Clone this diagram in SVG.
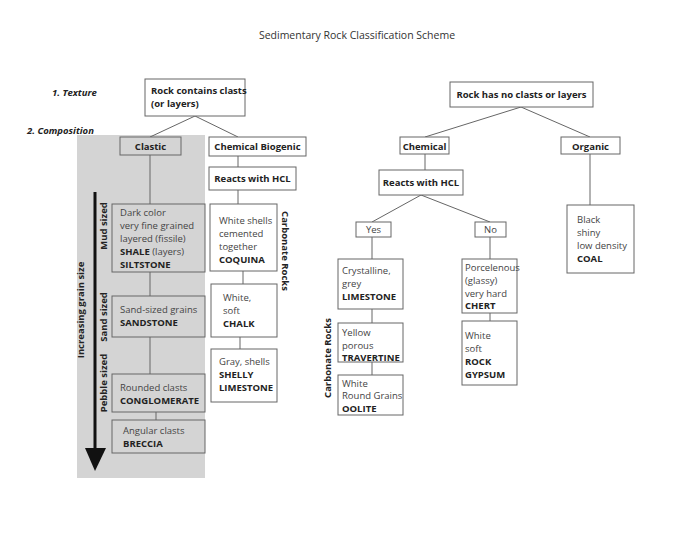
<svg xmlns="http://www.w3.org/2000/svg" width="700" height="545" viewBox="0 0 700 545">
<style>
text{font-family:"Open Sans","Noto Sans",sans-serif;font-size:9.5px;fill:#444}
.b{font-weight:bold;fill:#222}
.h{font-weight:bold;fill:#222;font-size:9.5px}
.lab{font-weight:bold;font-style:italic;fill:#222;font-size:9.5px}
rect{fill:#fff;stroke:#666;stroke-width:1}
rect.gr{fill:#d4d4d4}
line{stroke:#666;stroke-width:1;fill:none}
</style>
<rect width="700" height="545" style="fill:#fff;stroke:none"/>
<text x="357" y="39" text-anchor="middle" style="font-size:10.5px;fill:#333">Sedimentary Rock Classification Scheme</text>
<text x="52" y="96" class="lab">1. Texture</text>
<text x="27" y="134" class="lab">2. Composition</text>
<rect x="77" y="135" width="128" height="343" style="fill:#d4d4d4;stroke:none"/>
<g id="connectors">
<line x1="195" y1="116" x2="150" y2="137"/><line x1="195" y1="116" x2="238" y2="137"/>
<line x1="150" y1="155" x2="150" y2="204"/><line x1="150" y1="272" x2="150" y2="296"/>
<line x1="150" y1="337" x2="150" y2="374"/><line x1="156" y1="412" x2="156" y2="420"/>
<line x1="238" y1="156" x2="238" y2="167"/><line x1="238" y1="190" x2="238" y2="204"/>
<line x1="243" y1="271" x2="243" y2="284"/><line x1="240" y1="337" x2="240" y2="349"/>
<line x1="521" y1="107" x2="425" y2="137"/><line x1="521" y1="107" x2="590" y2="137"/>
<line x1="425" y1="154" x2="425" y2="170"/><line x1="590" y1="154" x2="590" y2="205"/>
<line x1="421" y1="195" x2="372" y2="222"/><line x1="421" y1="195" x2="490" y2="222"/>
<line x1="372" y1="237" x2="372" y2="259"/><line x1="490" y1="237" x2="490" y2="259"/>
<line x1="372" y1="309" x2="372" y2="323"/><line x1="372" y1="362" x2="372" y2="375"/>
<line x1="490" y1="313" x2="490" y2="321"/>
</g>
<g id="arrow">
<line x1="95" y1="192" x2="95" y2="452" style="stroke:#111;stroke-width:3"/>
<polygon points="85,448 106,448 95,471" fill="#111"/>
</g>
<text transform="translate(84,310) rotate(-90)" text-anchor="middle" class="b">Increasing grain size</text>
<text transform="translate(107,226) rotate(-90)" text-anchor="middle" class="b">Mud sized</text>
<text transform="translate(107,317) rotate(-90)" text-anchor="middle" class="b">Sand sized</text>
<text transform="translate(107,383) rotate(-90)" text-anchor="middle" class="b">Pebble sized</text>
<text transform="translate(282,251) rotate(90)" text-anchor="middle" class="b">Carbonate Rocks</text>
<text transform="translate(331,358) rotate(-90)" text-anchor="middle" class="b">Carbonate Rocks</text>
<g id="n1"><rect x="145" y="79" width="100" height="37"/><text x="151" y="94" class="h">Rock contains clasts</text><text x="151" y="107" class="h">(or layers)</text></g>
<g id="n2"><rect class="gr" x="120" y="137" width="61" height="18"/><text x="150.5" y="150" text-anchor="middle" class="h">Clastic</text></g>
<g id="n3"><rect x="209" y="137" width="97" height="19"/><text x="257.5" y="150" text-anchor="middle" class="h">Chemical Biogenic</text></g>
<g id="n4"><rect x="209" y="167" width="87" height="23"/><text x="252.5" y="182" text-anchor="middle" class="h">Reacts with HCL</text></g>
<g id="n5"><rect class="gr" x="112" y="204" width="93" height="68"/><text x="120" y="216">Dark color</text><text x="120" y="229">very fine grained</text><text x="120" y="242">layered (fissile)</text><text x="120" y="255"><tspan class="b">SHALE</tspan> (layers)</text><text x="120" y="268" class="b">SILTSTONE</text></g>
<g id="n6"><rect class="gr" x="112" y="296" width="93" height="41"/><text x="120" y="313">Sand-sized grains</text><text x="120" y="326" class="b">SANDSTONE</text></g>
<g id="n7"><rect class="gr" x="112" y="374" width="93" height="38"/><text x="120" y="391">Rounded clasts</text><text x="120" y="404" class="b">CONGLOMERATE</text></g>
<g id="n8"><rect class="gr" x="112" y="420" width="93" height="33"/><text x="123" y="434">Angular clasts</text><text x="123" y="447" class="b">BRECCIA</text></g>
<g id="n9"><rect x="210" y="204" width="67" height="67"/><text x="219" y="224">White shells</text><text x="219" y="237">cemented</text><text x="219" y="250">together</text><text x="219" y="263" class="b">COQUINA</text></g>
<g id="n10"><rect x="211" y="284" width="66" height="53"/><text x="223" y="301">White,</text><text x="223" y="314">soft</text><text x="223" y="327" class="b">CHALK</text></g>
<g id="n11"><rect x="211" y="349" width="66" height="53"/><text x="219" y="365">Gray, shells</text><text x="219" y="378" class="b">SHELLY</text><text x="219" y="391" class="b">LIMESTONE</text></g>
<g id="n12"><rect x="450" y="82" width="143" height="25"/><text x="521.5" y="98" text-anchor="middle" class="h">Rock has no clasts or layers</text></g>
<g id="n13"><rect x="400" y="137" width="49" height="17"/><text x="424.5" y="150" text-anchor="middle" class="h">Chemical</text></g>
<g id="n14"><rect x="561" y="137" width="59" height="17"/><text x="590.5" y="150" text-anchor="middle" class="h">Organic</text></g>
<g id="n15"><rect x="379" y="170" width="84" height="25"/><text x="421" y="186" text-anchor="middle" class="h">Reacts with HCL</text></g>
<g id="n16"><rect x="356" y="222" width="35" height="15"/><text x="373.5" y="233" text-anchor="middle">Yes</text></g>
<g id="n17"><rect x="475" y="222" width="31" height="15"/><text x="490.5" y="233" text-anchor="middle">No</text></g>
<g id="n18"><rect x="338" y="259" width="65" height="50"/><text x="342" y="274">Crystalline,</text><text x="342" y="287">grey</text><text x="342" y="300" class="b">LIMESTONE</text></g>
<g id="n19"><rect x="338" y="323" width="65" height="39"/><text x="342" y="336">Yellow</text><text x="342" y="349">porous</text><text x="342" y="361" class="b">TRAVERTINE</text></g>
<g id="n20"><rect x="338" y="375" width="65" height="40"/><text x="342" y="387">White</text><text x="342" y="399">Round Grains</text><text x="342" y="412" class="b">OOLITE</text></g>
<g id="n21"><rect x="462" y="259" width="55" height="54"/><text x="465" y="271">Porcelenous</text><text x="465" y="284">(glassy)</text><text x="465" y="297">very hard</text><text x="465" y="309" class="b">CHERT</text></g>
<g id="n22"><rect x="462" y="321" width="55" height="64"/><text x="465" y="339">White</text><text x="465" y="352">soft</text><text x="465" y="365" class="b">ROCK</text><text x="465" y="378" class="b">GYPSUM</text></g>
<g id="n23"><rect x="567" y="205" width="67" height="68"/><text x="577" y="223">Black</text><text x="577" y="236">shiny</text><text x="577" y="249">low density</text><text x="577" y="262" class="b">COAL</text></g>
</svg>
